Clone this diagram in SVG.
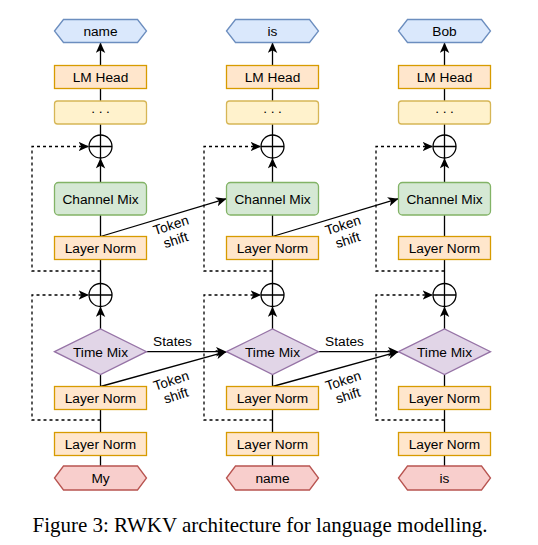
<svg xmlns="http://www.w3.org/2000/svg" width="538" height="545" viewBox="0 0 538 545">
<defs>
<style>
.t{font-family:"Liberation Sans",Arial,sans-serif;font-size:13.7px;fill:#000;text-anchor:middle}
.hb{fill:#dae8fc;stroke:#6c8ebf;stroke-width:1.3}
.hr{fill:#f8cecc;stroke:#b85450;stroke-width:1.3}
.or{fill:#ffe6cc;stroke:#d79b00;stroke-width:1.3}
.ye{fill:#fff2cc;stroke:#d6b656;stroke-width:1.3}
.gr{fill:#d5e8d4;stroke:#82b366;stroke-width:1.3}
.pu{fill:#e1d5e7;stroke:#9673a6;stroke-width:1.3}
.ci{fill:#fff;stroke:#000;stroke-width:1.3}
.ln{fill:none;stroke:#000;stroke-width:1.3}
.da{fill:none;stroke:#000;stroke-width:1.3;stroke-dasharray:3 3}
.cap{font-family:"Liberation Serif","Times New Roman",serif;font-size:21px;fill:#000;text-anchor:middle}
</style>
<marker id="ar" markerUnits="userSpaceOnUse" markerWidth="12" markerHeight="10" refX="10.5" refY="4.75" orient="auto" viewBox="0 0 12 10">
<path d="M0,0 L10.5,4.75 L0,9.5 L2.8,4.75 Z" fill="#000"/>
</marker>
</defs>

<g id="connectors">
<!-- column 1 -->
<path class="ln" d="M100.5,466 V455.5 M100.5,432.5 V409.5 M100.5,386.5 V374.5 M100.5,283.5 V259.5 M100.5,236.5 V215 M100.5,135 V124 M100.5,101 V88.5"/>
<path class="ln" d="M100.5,329 V306.5" marker-end="url(#ar)"/>
<path class="ln" d="M100.5,182.5 V158" marker-end="url(#ar)"/>
<path class="ln" d="M100.5,65.5 V42.5" marker-end="url(#ar)"/>
<path class="da" d="M100.5,420 H32 V295 H89" marker-end="url(#ar)"/>
<path class="da" d="M100.5,271 H32 V146.5 H89" marker-end="url(#ar)"/>
<!-- column 2 -->
<path class="ln" d="M272.5,466 V455.5 M272.5,432.5 V409.5 M272.5,386.5 V374.5 M272.5,283.5 V259.5 M272.5,236.5 V215 M272.5,135 V124 M272.5,101 V88.5"/>
<path class="ln" d="M272.5,329 V306.5" marker-end="url(#ar)"/>
<path class="ln" d="M272.5,182.5 V158" marker-end="url(#ar)"/>
<path class="ln" d="M272.5,65.5 V42.5" marker-end="url(#ar)"/>
<path class="da" d="M272.5,420 H204 V295 H261" marker-end="url(#ar)"/>
<path class="da" d="M272.5,271 H204 V146.5 H261" marker-end="url(#ar)"/>
<!-- column 3 -->
<path class="ln" d="M444.5,466 V455.5 M444.5,432.5 V409.5 M444.5,386.5 V374.5 M444.5,283.5 V259.5 M444.5,236.5 V215 M444.5,135 V124 M444.5,101 V88.5"/>
<path class="ln" d="M444.5,329 V306.5" marker-end="url(#ar)"/>
<path class="ln" d="M444.5,182.5 V158" marker-end="url(#ar)"/>
<path class="ln" d="M444.5,65.5 V42.5" marker-end="url(#ar)"/>
<path class="da" d="M444.5,420 H376 V295 H433" marker-end="url(#ar)"/>
<path class="da" d="M444.5,271 H376 V146.5 H433" marker-end="url(#ar)"/>
<!-- cross-column -->
<path class="ln" d="M146.5,351.7 H226.5" marker-end="url(#ar)"/>
<path class="ln" d="M100.5,386.5 L226.5,351.7" marker-end="url(#ar)"/>
<path class="ln" d="M100.5,236.5 L226.5,198.7" marker-end="url(#ar)"/>
<path class="ln" d="M318.5,351.7 H398.5" marker-end="url(#ar)"/>
<path class="ln" d="M272.5,386.5 L398.5,351.7" marker-end="url(#ar)"/>
<path class="ln" d="M272.5,236.5 L398.5,198.7" marker-end="url(#ar)"/>
<text class="t" x="172.5" y="345.5">States</text>
<text class="t" x="344.5" y="345.5">States</text>
<g transform="rotate(-18 173.3 232.5)"><text class="t" x="173.3" y="229.5">Token</text><text class="t" x="173.3" y="245">shift</text></g>
<g transform="rotate(-18 173.5 388)"><text class="t" x="173.5" y="385">Token</text><text class="t" x="173.5" y="400.5">shift</text></g>
<g transform="rotate(-18 345.3 232.5)"><text class="t" x="345.3" y="229.5">Token</text><text class="t" x="345.3" y="245">shift</text></g>
<g transform="rotate(-18 345.5 388)"><text class="t" x="345.5" y="385">Token</text><text class="t" x="345.5" y="400.5">shift</text></g>
</g>

<!-- Column 1 nodes -->
<g id="out1"><path class="hb" d="M54.5,31 L63.5,19.5 H137.5 L146.5,31 L137.5,42.5 H63.5 Z"/><text class="t" x="100.5" y="35.9">name</text></g>
<g id="lmhead1"><rect class="or" x="54.5" y="65.5" width="92" height="23"/><text class="t" x="100.5" y="81.9">LM Head</text></g>
<g id="dots1"><rect class="ye" x="54.5" y="101" width="92" height="23" rx="3"/><text class="t" x="102.3" y="113" letter-spacing="3.5">...</text></g>
<g id="add1a"><circle class="ci" cx="100.5" cy="146.5" r="11.5"/><path class="ln" d="M89,146.5 H112 M100.5,135 V158"/></g>
<g id="cmix1"><rect class="gr" x="54.5" y="182.5" width="92" height="32.5" rx="4"/><text class="t" x="100.5" y="203.6">Channel Mix</text></g>
<g id="ln1a"><rect class="or" x="54.5" y="236.5" width="92" height="23"/><text class="t" x="100.5" y="252.9">Layer Norm</text></g>
<g id="add1b"><circle class="ci" cx="100.5" cy="295" r="11.5"/><path class="ln" d="M89,295 H112 M100.5,283.5 V306.5"/></g>
<g id="tmix1"><path class="pu" d="M54.5,351.7 L100.5,329 L146.5,351.7 L100.5,374.5 Z"/><text class="t" x="100.5" y="356.6">Time Mix</text></g>
<g id="ln1b"><rect class="or" x="54.5" y="386.5" width="92" height="23"/><text class="t" x="100.5" y="402.9">Layer Norm</text></g>
<g id="ln1c"><rect class="or" x="54.5" y="432.5" width="92" height="23"/><text class="t" x="100.5" y="448.9">Layer Norm</text></g>
<g id="in1"><path class="hr" d="M54.5,478 L63.5,466 H137.5 L146.5,478 L137.5,490 H63.5 Z"/><text class="t" x="100.5" y="482.9">My</text></g>

<!-- Column 2 nodes -->
<g id="out2"><path class="hb" d="M226.5,31 L235.5,19.5 H309.5 L318.5,31 L309.5,42.5 H235.5 Z"/><text class="t" x="272.5" y="35.9">is</text></g>
<g id="lmhead2"><rect class="or" x="226.5" y="65.5" width="92" height="23"/><text class="t" x="272.5" y="81.9">LM Head</text></g>
<g id="dots2"><rect class="ye" x="226.5" y="101" width="92" height="23" rx="3"/><text class="t" x="274.3" y="113" letter-spacing="3.5">...</text></g>
<g id="add2a"><circle class="ci" cx="272.5" cy="146.5" r="11.5"/><path class="ln" d="M261,146.5 H284 M272.5,135 V158"/></g>
<g id="cmix2"><rect class="gr" x="226.5" y="182.5" width="92" height="32.5" rx="4"/><text class="t" x="272.5" y="203.6">Channel Mix</text></g>
<g id="ln2a"><rect class="or" x="226.5" y="236.5" width="92" height="23"/><text class="t" x="272.5" y="252.9">Layer Norm</text></g>
<g id="add2b"><circle class="ci" cx="272.5" cy="295" r="11.5"/><path class="ln" d="M261,295 H284 M272.5,283.5 V306.5"/></g>
<g id="tmix2"><path class="pu" d="M226.5,351.7 L272.5,329 L318.5,351.7 L272.5,374.5 Z"/><text class="t" x="272.5" y="356.6">Time Mix</text></g>
<g id="ln2b"><rect class="or" x="226.5" y="386.5" width="92" height="23"/><text class="t" x="272.5" y="402.9">Layer Norm</text></g>
<g id="ln2c"><rect class="or" x="226.5" y="432.5" width="92" height="23"/><text class="t" x="272.5" y="448.9">Layer Norm</text></g>
<g id="in2"><path class="hr" d="M226.5,478 L235.5,466 H309.5 L318.5,478 L309.5,490 H235.5 Z"/><text class="t" x="272.5" y="482.9">name</text></g>

<!-- Column 3 nodes -->
<g id="out3"><path class="hb" d="M398.5,31 L407.5,19.5 H481.5 L490.5,31 L481.5,42.5 H407.5 Z"/><text class="t" x="444.5" y="35.9">Bob</text></g>
<g id="lmhead3"><rect class="or" x="398.5" y="65.5" width="92" height="23"/><text class="t" x="444.5" y="81.9">LM Head</text></g>
<g id="dots3"><rect class="ye" x="398.5" y="101" width="92" height="23" rx="3"/><text class="t" x="446.3" y="113" letter-spacing="3.5">...</text></g>
<g id="add3a"><circle class="ci" cx="444.5" cy="146.5" r="11.5"/><path class="ln" d="M433,146.5 H456 M444.5,135 V158"/></g>
<g id="cmix3"><rect class="gr" x="398.5" y="182.5" width="92" height="32.5" rx="4"/><text class="t" x="444.5" y="203.6">Channel Mix</text></g>
<g id="ln3a"><rect class="or" x="398.5" y="236.5" width="92" height="23"/><text class="t" x="444.5" y="252.9">Layer Norm</text></g>
<g id="add3b"><circle class="ci" cx="444.5" cy="295" r="11.5"/><path class="ln" d="M433,295 H456 M444.5,283.5 V306.5"/></g>
<g id="tmix3"><path class="pu" d="M398.5,351.7 L444.5,329 L490.5,351.7 L444.5,374.5 Z"/><text class="t" x="444.5" y="356.6">Time Mix</text></g>
<g id="ln3b"><rect class="or" x="398.5" y="386.5" width="92" height="23"/><text class="t" x="444.5" y="402.9">Layer Norm</text></g>
<g id="ln3c"><rect class="or" x="398.5" y="432.5" width="92" height="23"/><text class="t" x="444.5" y="448.9">Layer Norm</text></g>
<g id="in3"><path class="hr" d="M398.5,478 L407.5,466 H481.5 L490.5,478 L481.5,490 H407.5 Z"/><text class="t" x="444.5" y="482.9">is</text></g>

<text class="cap" x="260" y="532">Figure 3: RWKV architecture for language modelling.</text>
</svg>
